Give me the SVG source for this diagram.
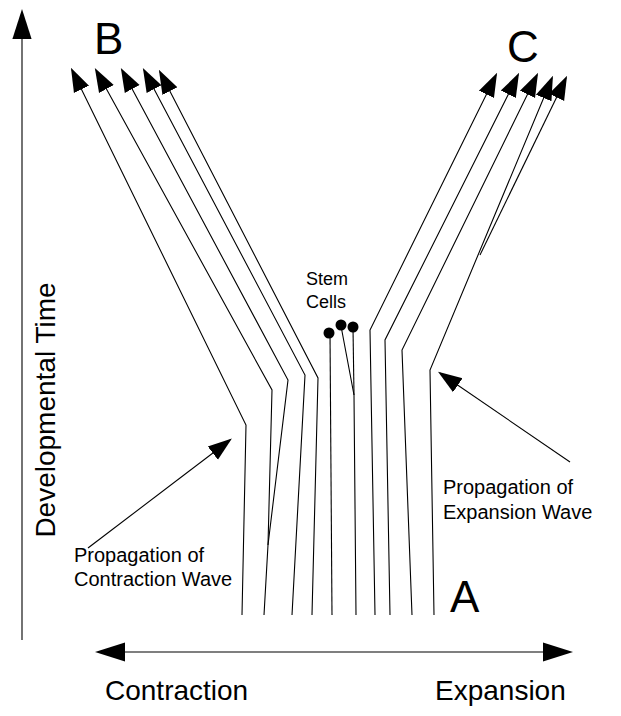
<svg xmlns="http://www.w3.org/2000/svg" width="621" height="716" viewBox="0 0 621 716">
<style>
.l{fill:none;stroke:#000;stroke-width:1.1}
text{font-family:"Liberation Sans",Arial,sans-serif;fill:#000}
.s{font-size:20px}
.st{font-size:18px}
.b{font-size:28px}
.h{font-size:44px}
</style>
<defs>
<marker id="ahb" viewBox="0 0 10 10" refX="9" refY="5" markerWidth="24" markerHeight="24" markerUnits="userSpaceOnUse" orient="auto-start-reverse"><path d="M0,1.5L10,5L0,8.5z" fill="#000"/></marker>
<marker id="ahl" viewBox="0 0 10 10" refX="9" refY="5" markerWidth="30" markerHeight="30" markerUnits="userSpaceOnUse" orient="auto-start-reverse"><path d="M0,1.8L10,5L0,8.2z" fill="#000"/></marker>
</defs>
<rect width="621" height="716" fill="#fff"/>
<g id="connectors">
<line class="l" x1="22" y1="640" x2="22" y2="12" marker-end="url(#ahl)"/>
<line class="l" x1="98" y1="652" x2="570" y2="652" marker-start="url(#ahl)" marker-end="url(#ahl)"/>
<polyline class="l" points="242,615 246,425 72,70" marker-end="url(#ahb)"/>
<polyline class="l" points="264,615 268,545 272,390 96,70" marker-end="url(#ahb)"/>
<polyline class="l" points="268,545 288,380 122,70" marker-end="url(#ahb)"/>
<polyline class="l" points="292,615 305,375 144,70" marker-end="url(#ahb)"/>
<polyline class="l" points="312,615 318,378 160,72" marker-end="url(#ahb)"/>
<polyline class="l" points="332,615 330,333"/>
<polyline class="l" points="356,615 354,395 341,326"/>
<polyline class="l" points="354,395 353,328"/>
<polyline class="l" points="375,615 370,330 496,75" marker-end="url(#ahb)"/>
<polyline class="l" points="390,615 385,340 518,75" marker-end="url(#ahb)"/>
<polyline class="l" points="412,615 402,350 537,75" marker-end="url(#ahb)"/>
<polyline class="l" points="434,615 430,370 552,78" marker-end="url(#ahb)"/>
<polyline class="l" points="480,255 566,78" marker-end="url(#ahb)"/>
<line class="l" x1="88" y1="548" x2="230" y2="440" marker-end="url(#ahb)"/>
<line class="l" x1="570" y1="462" x2="440" y2="373" marker-end="url(#ahb)"/>
</g>
<g id="stem-cells">
<circle cx="329" cy="333" r="5.5"/><circle cx="341" cy="325" r="5.5"/><circle cx="353" cy="327" r="5.5"/>
<text class="st" x="306" y="285">Stem</text><text class="st" x="306" y="308">Cells</text>
</g>
<g id="labels">
<text class="h" x="94" y="54">B</text>
<text class="h" x="507" y="62">C</text>
<text class="h" x="450" y="612">A</text>
<text class="s" x="74" y="562">Propagation of</text>
<text class="s" x="74" y="586">Contraction Wave</text>
<text class="s" x="443" y="494">Propagation of</text>
<text class="s" x="443" y="519">Expansion Wave</text>
<text class="b" transform="translate(55,410) rotate(-90)" text-anchor="middle">Developmental Time</text>
<text class="b" x="105" y="700">Contraction</text>
<text class="b" x="435" y="700">Expansion</text>
</g>
</svg>
